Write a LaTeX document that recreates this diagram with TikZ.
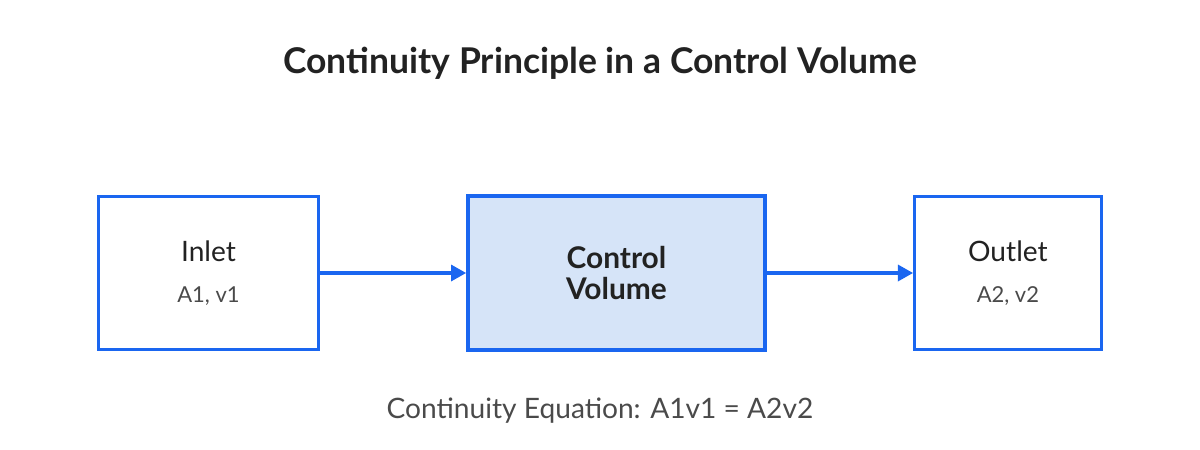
\documentclass[tikz,border=0pt]{standalone}
\usepackage{fontspec}
\setmainfont{Lato}
\usetikzlibrary{arrows.meta,positioning}
\definecolor{flowblue}{HTML}{1A66F0}
\definecolor{cvfill}{HTML}{D6E4F8}
\definecolor{darktext}{HTML}{222222}
\definecolor{subtext}{HTML}{4A4A4A}
\tikzset{node distance=2.92cm}
\tikzset{
    port/.style={draw=flowblue,line width=1.7pt,fill=white,align=center,
        text=darktext,inner sep=0pt,minimum height=3.06cm},
    cv/.style={draw=flowblue,line width=2.5pt,fill=cvfill,align=center,
        text=darktext,font=\fontsize{17}{17.6}\selectfont\bfseries,
        minimum width=5.93cm,minimum height=3.07cm},
    flow/.style={draw=flowblue,line width=1.8pt,
        -{Triangle[length=0.3cm,width=0.34cm,line width=0pt]}}
}
\newcommand{\portname}[2]{{\fontsize{16}{18}\selectfont #1}\\[11pt]{\fontsize{12.5}{14}\selectfont\color{subtext}#2}}

\begin{document}
\begin{tikzpicture}
    \useasboundingbox (0,0) rectangle (24,-8.98);
    \node[font=\fontsize{20.2}{24}\selectfont\bfseries,text=darktext] (title) at (12,-1.26)
        {Continuity Principle in a Control Volume};
    \node[port,minimum width=4.4cm] (inlet) at (4.17,-5.46) {\portname{Inlet}{A1, v1}};
    \node[cv] (ctrl) [right=of inlet] {Control\\Volume};
    \node[port,minimum width=3.74cm] (outlet) [right=of ctrl] {\portname{Outlet}{A2, v2}};
    \node[font=\fontsize{16}{18}\selectfont,text=subtext] (eq) at (12,-8.22)
        {Continuity Equation: A1v1 = A2v2};
    \draw[flow] (inlet) -- (ctrl);
    \draw[flow] (ctrl) -- (outlet);
\end{tikzpicture}
\end{document}
